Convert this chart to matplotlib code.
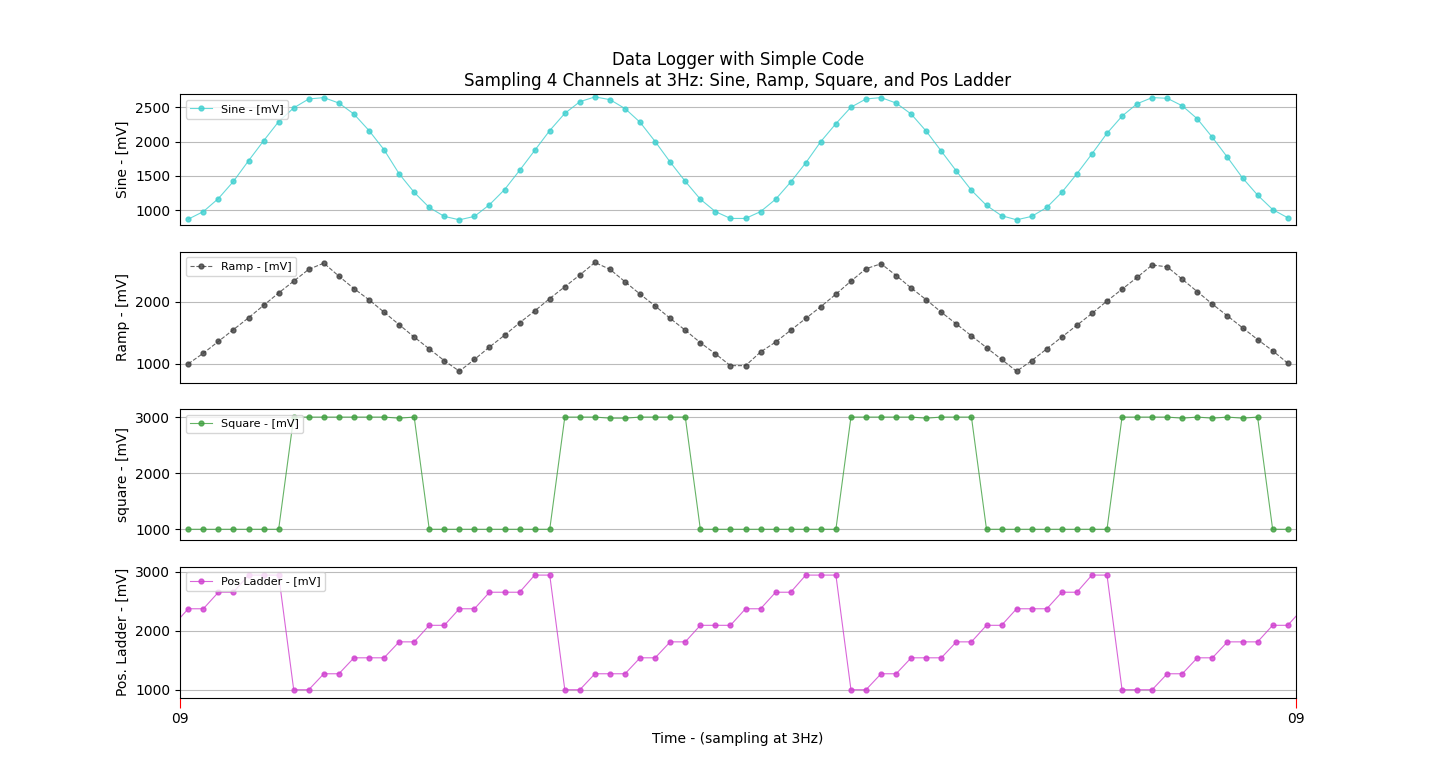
import matplotlib
matplotlib.use("Agg")
import matplotlib.pyplot as plt
import numpy as np

sine = [870,980,1170,1420,1720,2010,2290,2490,2620,2640,2560,2400,2160,1880,1530,1260,1040,910,860,910,
        1080,1300,1580,1870,2160,2410,2580,2650,2610,2480,2280,2000,1700,1420,1160,980,880,880,980,1160,
        1410,1690,2000,2260,2500,2620,2640,2560,2400,2150,1860,1570,1290,1070,920,860,910,1040,1260,1530,
        1820,2120,2370,2550,2640,2630,2520,2330,2060,1770,1470,1220,1010,890]
ramp = [1000,1170,1360,1550,1740,1940,2140,2330,2520,2620,2410,2210,2030,1830,1630,1430,1240,1050,880,1070,
        1270,1460,1660,1850,2050,2240,2430,2630,2520,2320,2120,1930,1730,1540,1340,1160,970,970,1190,1350,
        1540,1730,1920,2120,2330,2530,2610,2420,2220,2030,1830,1640,1450,1260,1070,880,1050,1240,1430,1620,
        1810,2010,2200,2390,2590,2560,2360,2160,1960,1770,1580,1390,1210,1010]
square = [1000]*7 + [3000,3000,3000,3000,3000,3000,3000,2980,3000] + [1000]*9 + \
         [3000,3000,3000,2980,2980,3000,3000,3000,3000] + [1000]*10 + \
         [3000,3000,3000,3000,3000,2980,3000,3000,3000] + [1000]*9 + \
         [3000,3000,3000,3000,2980,3000,2980,3000,2980,3000] + [1000,1000]
# ladder includes one sample before and after the visible window (index -1 and 74)
ladder = [2090,2370,2370,2650,2650,2940,2940,2940,1000,1000,1270,1270,1540,1540,1540,1810,1810,2090,2090,2370,
          2370,2650,2650,2650,2940,2940,1000,1000,1270,1270,1270,1540,1540,1810,1810,2090,2090,2090,2370,2370,
          2650,2650,2940,2940,2940,1000,1000,1270,1270,1540,1540,1540,1810,1810,2090,2090,2370,2370,2370,2650,
          2650,2940,2940,1000,1000,1000,1270,1270,1540,1540,1810,1810,1810,2090,2090,2370]

x = np.arange(len(sine))
xl = np.arange(-1, len(ladder) - 1)

fig, axes = plt.subplots(4, 1, figsize=(14.4, 7.84), dpi=100, sharex=True)
specs = [
    (x, sine, '#40d0d0', '-', 'Sine - [mV]', 'Sine - [mV]', (780, 2691)),
    (x, ramp, '#404040', '--', 'Ramp - [mV]', 'Ramp - [mV]', (694, 2806)),
    (x, square, '#40a040', '-', 'Square - [mV]', 'square - [mV]', (804, 3143)),
    (xl, ladder, '#d040d0', '-', 'Pos Ladder - [mV]', 'Pos. Ladder - [mV]', (864, 3085)),
]
for ax, (xx, yy, c, ls, lab, ylab, yl) in zip(axes, specs):
    ax.plot(xx, yy, color=c, linestyle=ls, linewidth=0.8, marker='o', markersize=3.5, alpha=0.8, label=lab)
    ax.set_ylim(*yl)
    ax.set_ylabel(ylab)
    ax.grid(axis='y', color='#bbbbbb')
    ax.legend(loc='upper left', fontsize=8)
    ax.tick_params(axis='x', bottom=False)

axes[0].set_xlim(-0.55, 73.55)
axes[0].set_title('Data Logger with Simple Code\nSampling 4 Channels at 3Hz: Sine, Ramp, Square, and Pos Ladder')
axes[-1].set_xticks([-0.55, 73.55])
axes[-1].set_xticklabels(['09', '09'])
axes[-1].tick_params(axis='x', bottom=True, colors='red', length=7, labelcolor='black')
axes[-1].set_xlabel('Time - (sampling at 3Hz)')

fig.savefig('out.png', dpi=100)
